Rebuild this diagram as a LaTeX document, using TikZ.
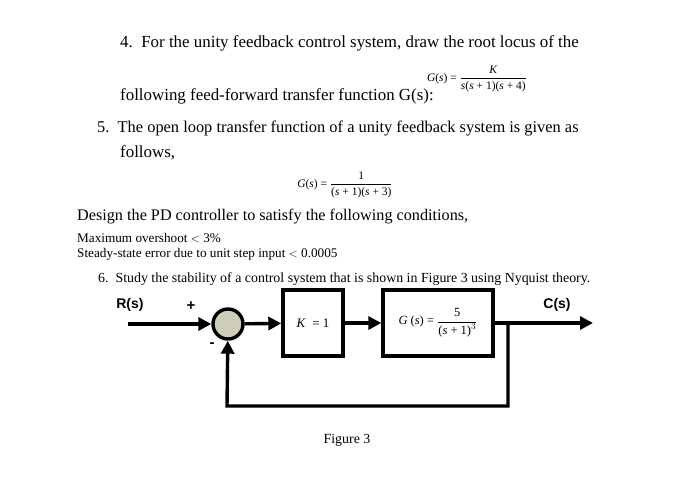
\documentclass[tikz,border=0pt]{standalone}
\usepackage{amsmath}
\usepackage{fontspec}
\setmainfont{Liberation Serif}
\newfontfamily\sansb{Liberation Sans}
\usetikzlibrary{positioning,arrows.meta}
\newcommand{\iv}[1]{\textit{#1}}
\tikzset{
  txt/.style={anchor=west,inner sep=0pt},
  blk/.style={draw,line width=3.4pt,minimum width=60pt,minimum height=66pt},
  sig/.style={line width=3.4pt},
  arr/.style={sig,-{Triangle[length=13pt,width=13pt]}}
}
\begin{document}
\begin{tikzpicture}[x=1pt,y=-1pt]
\useasboundingbox (0,0) rectangle (700,487);
% questions
\node[txt,font=\fontsize{16.9}{20}\selectfont] (q4) at (120,43) {4.\ \ For the unity feedback control system, draw the root locus of the};
\node[font=\fontsize{11.5}{14}\selectfont] (g4) at (477,79) {\iv{G}(\iv{s}) = $\dfrac{\text{\iv{K}}}{\text{\iv{s}(\iv{s} + 1)(\iv{s} + 4)}}$};
\node[txt,font=\fontsize{16.9}{20}\selectfont] (q4b) at (120,96) {following feed-forward transfer function G(s):};
\node[txt,font=\fontsize{16.4}{20}\selectfont] (q5) at (97,128) {5.\ \ The open loop transfer function of a unity feedback system is given as};
\node[txt,font=\fontsize{16.9}{20}\selectfont] (q5b) at (120,153) {follows,};
\node[font=\fontsize{11.5}{14}\selectfont] (g5) at (345,185) {\iv{G}(\iv{s}) = $\dfrac{\text{1}}{\text{(\iv{s} + 1)(\iv{s} + 3)}}$};
\node[txt,font=\fontsize{16.2}{19}\selectfont] (pd) at (77,217) {Design the PD controller to satisfy the following conditions,};
\node[txt,font=\fontsize{13.2}{15}\selectfont] (c1) at (77,238) {Maximum overshoot $<$ 3\%};
\node[txt,font=\fontsize{13.2}{15}\selectfont] (c2) at (77,254) {Steady-state error due to unit step input $<$ 0.0005};
\node[txt,font=\fontsize{13.9}{16}\selectfont] (q6) at (98,279) {6.\ \ Study the stability of a control system that is shown in Figure 3 using Nyquist theory.};
% block diagram
\node[draw,circle,line width=3.4pt,fill={rgb,255:red,205;green,205;blue,185},minimum size=30pt,inner sep=0pt] (sum) at (228,324) {};
\node[blk] (k) at (313,323) {\fontsize{13}{15}\selectfont\iv{K}\ \ = 1};
\node[blk,minimum width=110pt] (g) at (438,323) {\fontsize{12.5}{15}\selectfont\iv{G} (\iv{s}) = $\dfrac{\text{5}}{\text{(\iv{s} + 1)}^3}$};
\coordinate (in) at (128,324);
\coordinate (out) at (593,323);
\coordinate (br) at (508,323);
\coordinate (bl) at (508,406);
\coordinate (fb) at (227,406);
\draw[arr] (in) -- (sum);
\draw[arr] (sum) -- (k);
\draw[arr] (k) -- (g);
\draw[arr] (g) -- (out);
\draw[arr] (br) -- (bl) -- (fb) -- (sum);
\node[font=\sansb\bfseries\fontsize{14}{16}\selectfont] (r) at (130,305) {R(s)};
\node[font=\sansb\bfseries\fontsize{14}{16}\selectfont] (c) at (557,305) {C(s)};
\node[font=\sansb\bfseries\fontsize{15}{17}\selectfont] (plus) at (191,306) {+};
\node[font=\sansb\bfseries\fontsize{15}{17}\selectfont] (minus) at (212,345) {-};
\node[font=\fontsize{13.9}{16}\selectfont] (fig) at (347,440) {Figure 3};
\end{tikzpicture}
\end{document}
